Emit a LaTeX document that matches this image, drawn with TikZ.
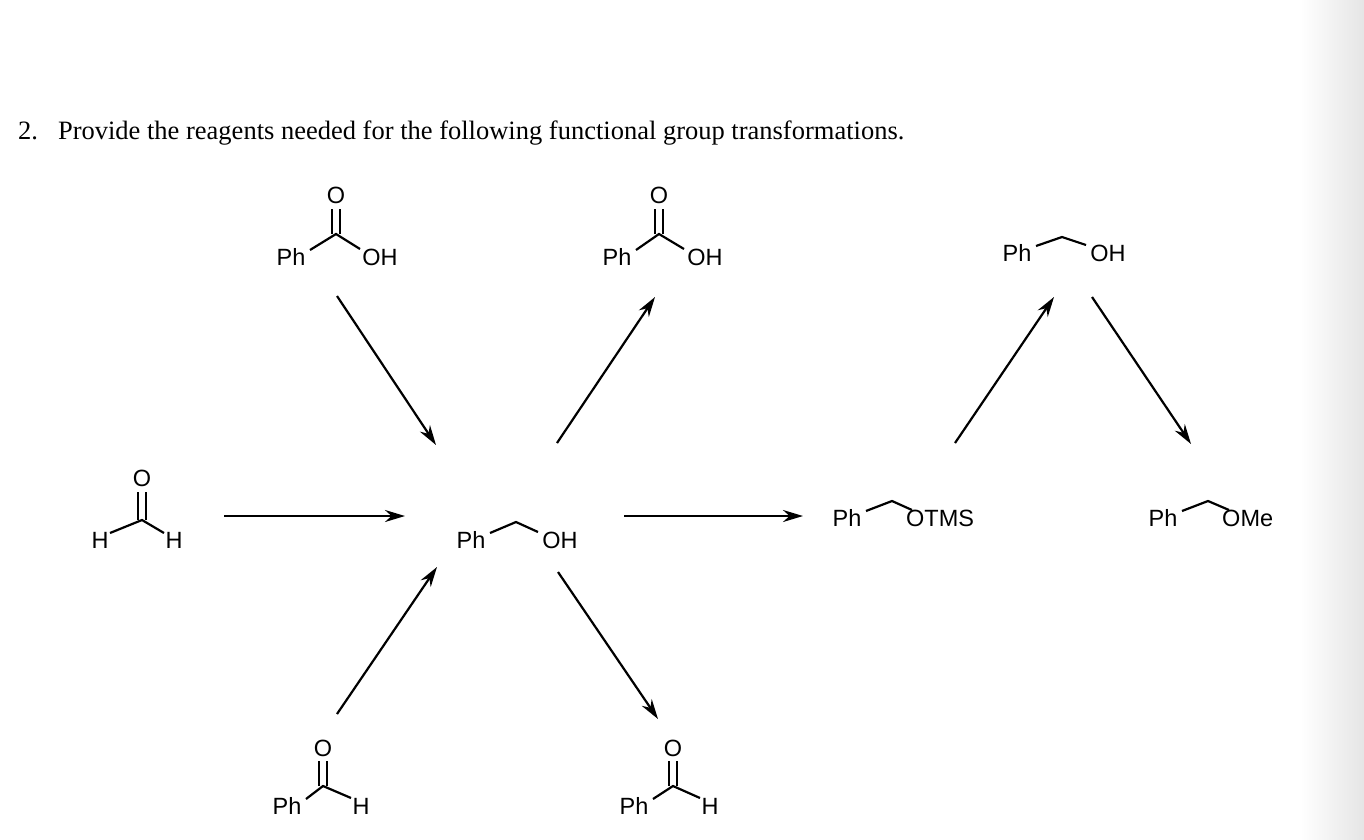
\documentclass[tikz,border=0pt]{standalone}
\usepackage{fontspec}
\setmainfont{Liberation Serif}
\newfontfamily\chem{Liberation Sans}
\usetikzlibrary{arrows.meta}
\begin{document}
\begin{tikzpicture}[x=1pt,y=-1pt,
  atm/.style={font=\chem\fontsize{23.5}{24}\selectfont,inner sep=1pt},
  bond/.style={line width=2.2pt},
  rxn/.style={line width=2.2pt,-{Stealth[length=20pt,width=12pt]}}]
\useasboundingbox (0,0) rectangle (1364,839);
\shade[left color=white,right color=black!10] (1300,0) rectangle (1364,839);
\node[anchor=base west,font=\fontsize{26.5}{27}\selectfont,inner sep=0] (title) at (18,139) {2.\hspace{20pt}Provide the reagents needed for the following functional group transformations.};
% acid 1
\node[atm] (a1p) at (291,257) {Ph}; \node[atm] (a1o) at (380,257) {OH}; \node[atm] (a1O) at (336,195) {O};
\coordinate (a1c) at (336,234);
\draw[bond] (310,250) -- (a1c) -- (360,249);
\draw[bond] (332,234) -- (332,209) (340,234) -- (340,209);
% acid 2
\node[atm] (a2p) at (617,257) {Ph}; \node[atm] (a2o) at (705,257) {OH}; \node[atm] (a2O) at (659,195) {O};
\coordinate (a2c) at (659,234);
\draw[bond] (636,250) -- (a2c) -- (684,249);
\draw[bond] (655,234) -- (655,209) (663,234) -- (663,209);
% BnOH top right
\node[atm] (b2p) at (1017,253) {Ph}; \node[atm] (b2o) at (1108,253) {OH};
\coordinate (b2c) at (1062,237);
\draw[bond] (1036,246) -- (b2c) -- (1086,245);
% formaldehyde
\node[atm] (fh1) at (100,540) {H}; \node[atm] (fh2) at (174,540) {H}; \node[atm] (fO) at (142,478) {O};
\coordinate (fc) at (142,520);
\draw[bond] (110,533) -- (fc) -- (164,533);
\draw[bond] (138,520) -- (138,492) (146,520) -- (146,492);
% center BnOH
\node[atm] (cp) at (471,540) {Ph}; \node[atm] (co) at (560,540) {OH};
\coordinate (cc) at (516,522);
\draw[bond] (490,533) -- (cc) -- (538,532);
% OTMS
\node[atm] (tp) at (847,518) {Ph}; \node[atm,anchor=west] (to) at (905,518) {OTMS};
\coordinate (tc) at (892,501);
\draw[bond] (866,511) -- (tc) -- (912,510);
% OMe
\node[atm] (mp) at (1163,518) {Ph}; \node[atm,anchor=west] (mo) at (1221,518) {OMe};
\coordinate (mc) at (1208,501);
\draw[bond] (1182,511) -- (mc) -- (1229,510);
% aldehyde 1
\node[atm] (d1p) at (287,806) {Ph}; \node[atm] (d1h) at (361,806) {H}; \node[atm] (d1O) at (323,748) {O};
\coordinate (d1c) at (323,786);
\draw[bond] (306,799) -- (d1c) -- (351,798);
\draw[bond] (319,786) -- (319,761) (327,786) -- (327,761);
% aldehyde 2
\node[atm] (d2p) at (634,806) {Ph}; \node[atm] (d2h) at (710,806) {H}; \node[atm] (d2O) at (673,748) {O};
\coordinate (d2c) at (673,786);
\draw[bond] (653,799) -- (d2c) -- (700,798);
\draw[bond] (669,786) -- (669,761) (677,786) -- (677,761);
% arrows
\coordinate (r1s) at (337,296); \coordinate (r1e) at (436,445);
\coordinate (r2s) at (557,443); \coordinate (r2e) at (655,297);
\coordinate (r3s) at (224,516); \coordinate (r3e) at (405,516);
\coordinate (r4s) at (624,516); \coordinate (r4e) at (803,516);
\coordinate (r5s) at (337,714); \coordinate (r5e) at (437,567);
\coordinate (r6s) at (558,572); \coordinate (r6e) at (658,719);
\coordinate (r7s) at (955,443); \coordinate (r7e) at (1054,297);
\coordinate (r8s) at (1092,297); \coordinate (r8e) at (1191,444);
\foreach \i in {1,...,8} {\draw[rxn] (r\i s) -- (r\i e);}
\end{tikzpicture}
\end{document}
